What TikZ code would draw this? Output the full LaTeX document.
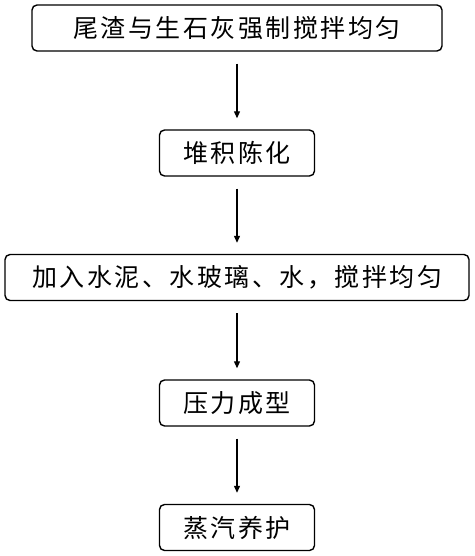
\documentclass[tikz,border=0pt]{standalone}
\usepackage{fontspec}
\setmainfont{Noto Sans CJK SC}[LetterSpace=10]
\usetikzlibrary{arrows.meta}
\tikzset{
  stepbox/.style={draw=black, line width=1.4pt, rounded corners=5pt, fill=white,
    minimum height=46pt, inner sep=0pt, font=\fontsize{25pt}{30pt}\selectfont},
  flow/.style={-{Triangle[length=7pt,width=6pt]}, line width=1.2pt,
    shorten <=12pt, shorten >=11pt}
}
\begin{document}
\begin{tikzpicture}[x=1pt,y=-1pt]
\useasboundingbox (0,0) rectangle (474,556);
\pgfmathsetmacro{\mx}{237}
\node[stepbox, minimum width=410pt] (mix) at (\mx,28) {尾渣与生石灰强制搅拌均匀};
\node[stepbox, minimum width=155pt] (age) at (\mx,153) {堆积陈化};
\node[stepbox, minimum width=464pt] (add) at (\mx,277.5) {加入水泥、水玻璃、水，搅拌均匀};
\node[stepbox, minimum width=155pt] (press) at (\mx,403) {压力成型};
\node[stepbox, minimum width=155pt] (cure) at (\mx,527.5) {蒸汽养护};
\draw[flow] (mix) -- (age);
\draw[flow] (age) -- (add);
\draw[flow] (add) -- (press);
\draw[flow] (press) -- (cure);
\end{tikzpicture}
\end{document}
